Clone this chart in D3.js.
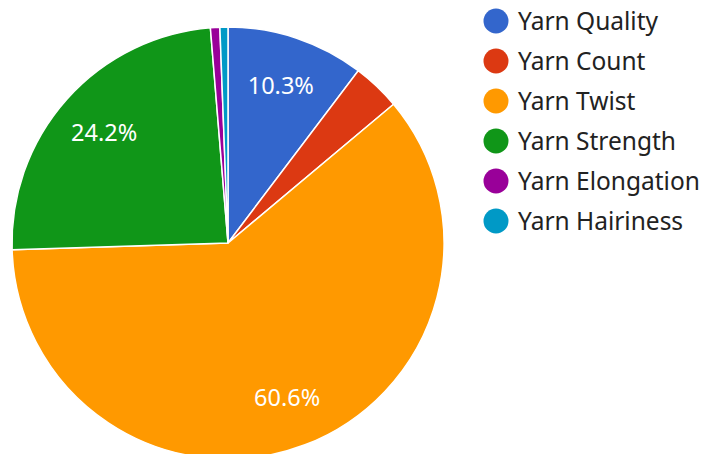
<!DOCTYPE html>
<html>
<head>
<meta charset="utf-8">
<script src="https://cdn.jsdelivr.net/npm/d3@7"></script>
<style>
  body { margin: 0; background: #fff; }
  svg { display: block; font-family: "Noto Sans", "Open Sans", sans-serif; }
</style>
</head>
<body>
<svg id="chart"></svg>
<script>
// slice values (percent)
var categories = ["Yarn Quality", "Yarn Count", "Yarn Twist", "Yarn Strength", "Yarn Elongation", "Yarn Hairiness"];
var values = [10.3, 3.6, 60.6, 24.2, 0.7, 0.6];
var colors = ["#3366cc", "#dc3912", "#ff9900", "#109618", "#990099", "#0099c6"];

var width = 702;
var height = 454;
var cx = 228, cy = 243, radius = 216;

var data = categories.map((c, i) => ({name: c, value: values[i], color: colors[i]}));
var total = d3.sum(values);

var svg = d3.select("#chart")
    .attr("width", width)
    .attr("height", height);

var pie = d3.pie()
    .sort(null)
    .value(d => d.value);

var arc = d3.arc()
    .innerRadius(0)
    .outerRadius(radius);

var labelArc = d3.arc()
    .innerRadius(166)
    .outerRadius(166);

var g = svg.append("g")
    .attr("transform", `translate(${cx},${cy})`);

var arcs = pie(data);

g.selectAll("path")
    .data(arcs)
    .join("path")
    .attr("d", arc)
    .attr("fill", d => d.data.color)
    .attr("stroke", "#fff")
    .attr("stroke-width", 1.5);

// only big slices get a percent label
g.selectAll("text")
    .data(arcs.filter(d => d.data.value / total > 0.05))
    .join("text")
    .attr("transform", d => `translate(${labelArc.centroid(d)})`)
    .attr("text-anchor", "middle")
    .attr("dy", "0.35em")
    .attr("fill", "#fff")
    .attr("font-size", 23.5)
    .text(d => (d.data.value / total * 100).toFixed(1) + "%");

var legend = svg.append("g")
    .attr("transform", "translate(496,21)");

var item = legend.selectAll("g")
    .data(data)
    .join("g")
    .attr("transform", (d, i) => `translate(0,${i * 40})`);

item.append("circle")
    .attr("r", 12.5)
    .attr("fill", d => d.color);

item.append("text")
    .attr("x", 22)
    .attr("dy", "0.36em")
    .attr("fill", "#222")
    .attr("font-size", 24.5)
    .text(d => d.name);
</script>
</body>
</html>
